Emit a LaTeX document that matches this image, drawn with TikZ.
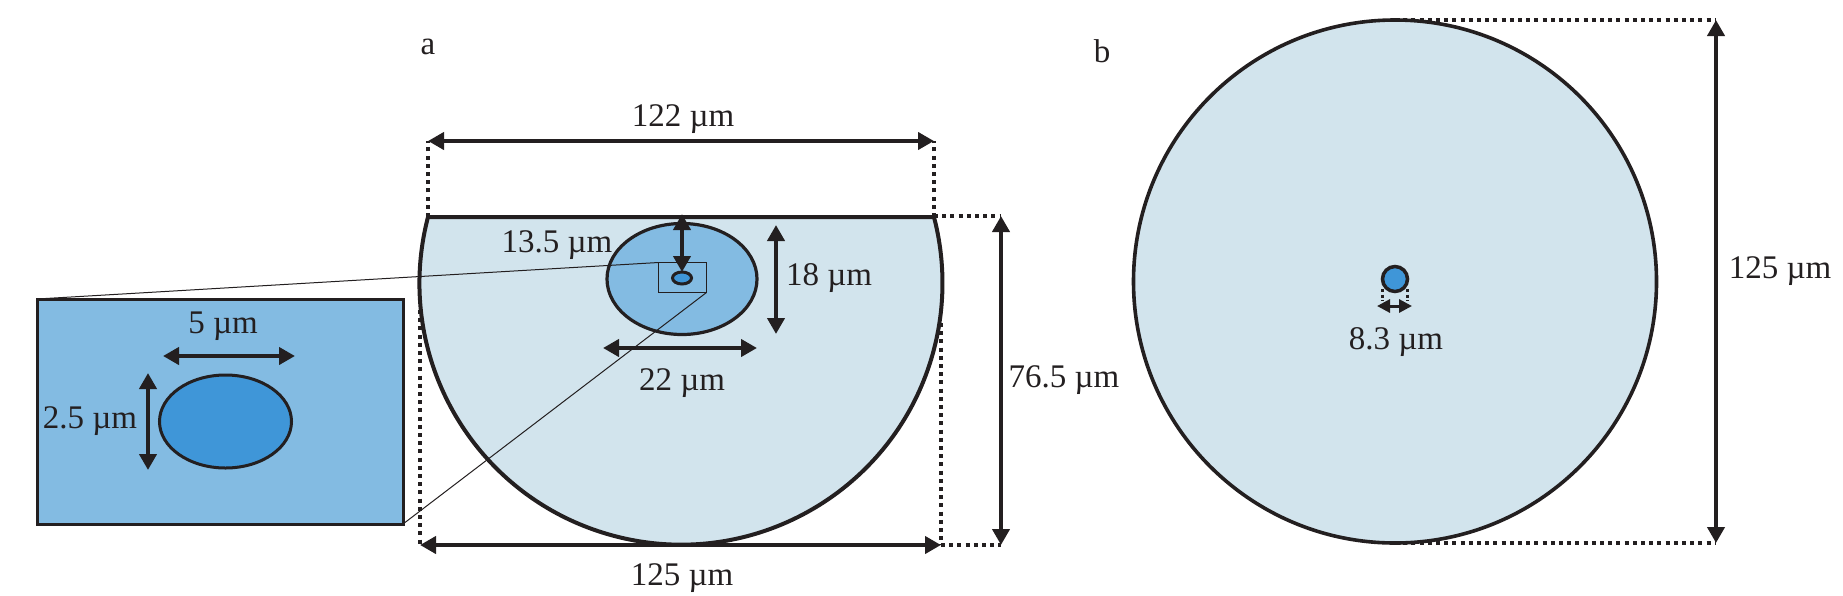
\documentclass[tikz,border=0pt]{standalone}
\usepackage{fontspec}
\setmainfont{Liberation Serif}
\usetikzlibrary{arrows.meta,shapes.geometric}
\definecolor{inkc}{HTML}{231F20}
\definecolor{lightb}{HTML}{D2E4ED}
\definecolor{midb}{HTML}{83BBE2}
\definecolor{darkb}{HTML}{3F96D8}
\tikzset{
  outl/.style={draw=inkc,line width=3.6pt},
  dimline/.style={draw=inkc,line width=4pt,{Triangle[length=16pt,width=17pt]}-{Triangle[length=16pt,width=17pt]}},
  smalldim/.style={draw=inkc,line width=3pt,{Triangle[length=13pt,width=13pt]}-{Triangle[length=13pt,width=13pt]}},
  dotline/.style={draw=inkc,line width=4pt,dash pattern=on 4pt off 4.2pt},
  smalldot/.style={draw=inkc,line width=3pt,dash pattern=on 3pt off 2.5pt},
  thinline/.style={draw=inkc,line width=1pt},
  lab/.style={text=inkc,font=\fontsize{33}{36}\selectfont,inner sep=0pt,outer sep=0pt},
  ell/.style={ellipse,draw=inkc,line width=3.2pt,inner sep=0pt,outer sep=0pt},
}
\begin{document}
\begin{tikzpicture}[x=1pt,y=-1pt]
\useasboundingbox (0,0) rectangle (1843,595);
% panel a: D-shaped cross-section
\coordinate (dl) at (428,217);
\coordinate (dr) at (934,217);
\filldraw[fill=lightb,outl,line width=4pt] (dl) arc[start angle=165.35,end angle=374.65,radius=261.5pt] -- cycle;
% dotted guide lines
\coordinate (tl) at (428,141);
\coordinate (tr) at (934,141);
\coordinate (bl) at (420,545);
\coordinate (br) at (941,545);
\coordinate (sl) at (420,310);
\coordinate (sr) at (941,323);
\coordinate (h1) at (1001,216);
\coordinate (h2) at (1001,545);
\draw[dotline] (dl) -- (tl);
\draw[dotline] (dr) -- (tr);
\draw[dotline] (sl) -- (bl);
\draw[dotline] (sr) -- (br);
\draw[dotline] (dr|-h1) -- (h1);
\draw[dotline] (br|-h2) -- (h2);
% core
\node[ell,fill=midb,minimum width=150pt,minimum height=111pt] (core) at (682,279) {};
\node[ell,fill=darkb,minimum width=19pt,minimum height=12pt,line width=3pt] (hole) at (682,278) {};
\node[draw=inkc,line width=1pt,minimum width=48pt,minimum height=30pt,inner sep=0pt,outer sep=0pt] (zoombox) at (682.5,277.5) {};
% inset
\node[draw=inkc,line width=3pt,fill=midb,minimum width=366pt,minimum height=225pt,inner sep=0pt,outer sep=0pt] (inset) at (220,411.5) {};
\node[ell,fill=darkb,minimum width=132pt,minimum height=93pt,line width=3pt] (bighole) at (225.5,421.5) {};
\draw[thinline] (inset.north west) -- (zoombox.north west);
\draw[thinline] (inset.south east) -- (zoombox.south east);
% dimension end points
\coordinate (a1) at (682,214);
\coordinate (a2) at (682,272);
\coordinate (b1) at (776,225);
\coordinate (b2) at (776,334);
\coordinate (c1) at (603,348);
\coordinate (c2) at (757,348);
\coordinate (d1) at (163,356);
\coordinate (d2) at (295,356);
\coordinate (e1) at (148,373);
\coordinate (e2) at (148,470);
\draw[dimline] (tl) -- (tr);
\draw[dimline] (a1) -- (a2);
\draw[dimline] (b1) -- (b2);
\draw[dimline] (c1) -- (c2);
\draw[dimline] (d1) -- (d2);
\draw[dimline] (e1) -- (e2);
\draw[dimline] (bl) -- (br);
\draw[dimline] (h1) -- (h2);
% panel b
\node[circle,draw=inkc,line width=3.6pt,fill=lightb,minimum size=523pt,inner sep=0pt,outer sep=0pt] (fibre) at (1395,281.5) {};
\node[circle,draw=inkc,line width=3.5pt,fill=darkb,minimum size=25pt,inner sep=0pt,outer sep=0pt] (bcore) at (1395,279) {};
\coordinate (k1) at (1716,20);
\coordinate (k2) at (1716,543);
\coordinate (k3) at (1395,20);
\coordinate (k4) at (1395,543);
\draw[dotline] (k3) -- (k1);
\draw[dotline] (k4) -- (k2);
\draw[dimline] (k1) -- (k2);
\coordinate (m1) at (1377,306);
\coordinate (m2) at (1412,306);
\coordinate (n1) at (1382,289);
\coordinate (n2) at (1407,289);
\coordinate (n3) at (1382,301);
\coordinate (n4) at (1407,301);
\draw[smalldot] (n1) -- (n3);
\draw[smalldot] (n2) -- (n4);
\draw[smalldim] (m1) -- (m2);
% labels
\node[lab] (la) at (428,47) {a};
\node[lab] (lb) at (1102,51) {b};
\node[lab] (t122) at (683,119) {122 µm};
\node[lab] (t135) at (557,245) {13.5 µm};
\node[lab] (t18) at (829,278) {18 µm};
\node[lab] (t22) at (682,383) {22 µm};
\node[lab] (t125a) at (682,578) {125 µm};
\node[lab] (t765) at (1064,380) {76.5 µm};
\node[lab] (t5) at (223,326) {5 µm};
\node[lab] (t25) at (90,421) {2.5 µm};
\node[lab] (t125b) at (1780,271) {125 µm};
\node[lab] (t83) at (1396,342) {8.3 µm};
\end{tikzpicture}
\end{document}
